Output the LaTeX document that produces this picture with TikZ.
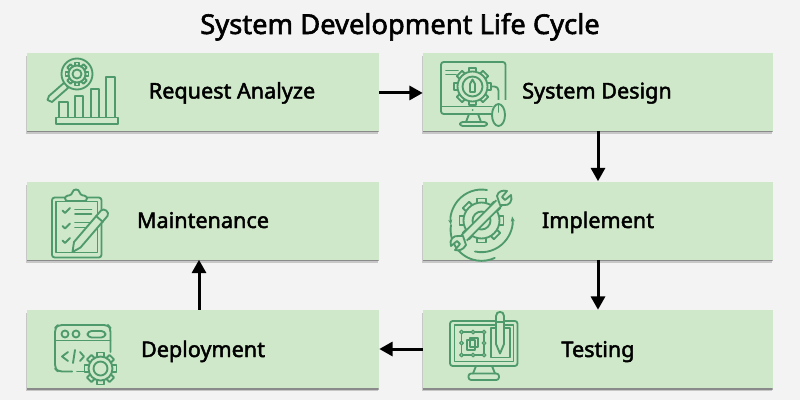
\documentclass[tikz,border=0pt]{standalone}
\usepackage{fontspec}
\setmainfont{Noto Sans}[AutoFakeBold=2.1]
\usetikzlibrary{arrows.meta,shadows}

\definecolor{pagegray}{HTML}{F3F3F3}
\definecolor{boxgreen}{HTML}{CFE8C9}
\definecolor{icongreen}{HTML}{4F9A6C}

\tikzset{
  stepbox/.style={fill=boxgreen,draw=none,minimum width=264pt,minimum height=58.5pt,inner sep=0pt,
    drop shadow={shadow xshift=-0.5pt,shadow yshift=-2.4pt,opacity=0.18,fill=black},
    drop shadow={shadow xshift=-0.3pt,shadow yshift=-1.2pt,opacity=0.3,fill=black}},
  widebox/.style={stepbox,minimum width=262.5pt},
  steplabel/.style={font=\fontsize{16.2}{18}\selectfont\bfseries,text=black,inner sep=0pt,anchor=base},
  flowarrow/.style={line width=2.25pt,-{Triangle[length=10pt,width=10.5pt]}},
  iconline/.style={draw=icongreen,line width=1.4pt,line join=round,line cap=round},
}

% gear: centre x, centre y, outer radius, body radius, hole radius
\newcommand{\gearshape}[5]{
  \foreach \a in {0,45,...,315}
    \draw[iconline,fill=boxgreen,rotate around={\a:(#1,#2)}]
      (#1-#3*0.2,#2) -- (#1-#3*0.2,#2-#3) -- (#1+#3*0.2,#2-#3) -- (#1+#3*0.2,#2) ;
  \draw[iconline,fill=boxgreen] (#1,#2) circle [radius=#4] ;
  \draw[iconline] (#1,#2) circle [radius=#5] ;
}

\begin{document}
\begin{tikzpicture}[x=0.75pt,y=0.75pt,yscale=-1,xscale=1]
\fill[pagegray] (0,0) rectangle (800,400) ;
\useasboundingbox (0,0) rectangle (800,400) ;

% Title
\node (title) at (400,34) [font=\fontsize{20.5}{22}\selectfont\bfseries,inner sep=0pt,anchor=base] {System Development Life Cycle};

% Boxes
\node (request) at (203,91.5) [stepbox] {};
\node (design) at (598,91.5) [widebox] {};
\node (maintenance) at (203,220.5) [stepbox] {};
\node (implement) at (598,220.5) [widebox] {};
\node (deployment) at (203,349) [stepbox] {};
\node (testing) at (598,349) [widebox] {};

% Text Nodes
\node (requestlabel) at (232,98.5) [steplabel] {Request Analyze};
\node (designlabel) at (597,98.5) [steplabel] {System Design};
\node (maintenancelabel) at (203,228) [steplabel] {Maintenance};
\node (implementlabel) at (598,228) [steplabel] {Implement};
\node (deploymentlabel) at (203,357) [steplabel] {Deployment};
\node (testinglabel) at (598,357) [steplabel] {Testing};

% Arrows
\draw[flowarrow] ([yshift=1.1pt]request.east) -- ([yshift=1.1pt]design.west) ;
\draw[flowarrow] (design.south) -- (implement.north) ;
\draw[flowarrow] (implement.south) -- (testing.north) ;
\draw[flowarrow] (testing.west) -- (deployment.east) ;
\draw[flowarrow] ([xshift=-3pt]deployment.north) -- ([xshift=-3pt]maintenance.south) ;

% Icon: magnifier and bars
\draw[iconline] (56,117.5) rectangle (118,124) ;
\draw[iconline] (59,117) -- (59,102) -- (68,102) -- (68,117) ;
\draw[iconline] (75,117) -- (75,96) -- (83,96) -- (83,117) ;
\draw[iconline] (91,117) -- (91,89) -- (99,89) -- (99,117) ;
\draw[iconline] (106,117) -- (106,77) -- (115,77) -- (115,117) ;
\draw[iconline,fill=boxgreen] (65,82) -- (49,96) -- (47.5,100) -- (52,102) -- (68,88) -- cycle ;
\draw[iconline,fill=boxgreen] (77,74) circle [radius=15.5] ;
\gearshape{77}{74}{11.5}{8.5}{4.5}

% Icon: monitor with gear and mouse
\draw[iconline,rounded corners=2] (441,62) rectangle (505.5,114) ;
\draw[iconline] (441,106.5) -- (492,106.5) ;
\draw[iconline] (469,114) -- (466,122) ;
\draw[iconline] (478,114) -- (481,122) ;
\draw[iconline,rounded corners=2] (460,122) rectangle (487,126) ;
\draw[iconline] (446,70.5) -- (458,70.5) ;
\draw[iconline] (446,74.5) -- (456,74.5) ;
\fill[icongreen] (472.5,110) circle [radius=1] ;
\gearshape{472.5}{86.5}{18.5}{15}{10}
\draw[iconline] (470,92) -- (470,84) -- (472.5,79.5) -- (475,84) -- (475,92) -- cycle ;
\draw[iconline,rounded corners=3] (491,86.5) -- (498.5,86.5) -- (498.5,105) ;
\fill[boxgreen] (493,100) rectangle (507,116) ;
\draw[iconline,fill=boxgreen] (498.5,115) ellipse [x radius=6.5, y radius=11] ;
\draw[iconline] (498.5,104) -- (498.5,112) ;

% Icon: gear, wrench and round arrows
\gearshape{481.5}{220.5}{22}{18}{9}
\draw[iconline] (451,225) arc [start angle=171, end angle=295, x radius=31, y radius=-31] ;
\draw[iconline,-{Stealth[length=4pt]}] (487,190) arc [start angle=-80, end angle=-188, radius=31] ;
\draw[iconline,-{Stealth[length=4pt]}] (475,251.5) arc [start angle=102, end angle=-9, radius=31] ;
\draw[draw=icongreen,line width=7pt] (464,238) -- (499,203) ;
\draw[draw=boxgreen,line width=4pt] (464,238) -- (499,203) ;
\draw[iconline,fill=boxgreen] (500,205) -- (497,196) .. controls (498,191) and (503,190) .. (507,191) -- (502,197) -- (505,200) -- (511,195) .. controls (513,201) and (509,206) .. (504,205) -- cycle ;
\draw[iconline,fill=boxgreen] (463,236) -- (466,245) .. controls (463,250) and (459,251) .. (455,250) -- (460,244) -- (457,241) -- (451,246) .. controls (449,240) and (453,235) .. (459,236) -- cycle ;

% Icon: monitor with pen
\draw[iconline,rounded corners=2] (450,321) rectangle (517.5,366) ;
\draw[iconline] (454.5,325) rectangle (513.5,361.5) ;
\draw[iconline] (476,366) -- (473,373.5) ;
\draw[iconline] (492,366) -- (495,373.5) ;
\draw[iconline,rounded corners=2] (468.5,373.5) rectangle (499,380) ;
\draw[iconline] (461.5,332) rectangle (484,355) ;
\draw[iconline] (467,340) rectangle (475,350) ;
\draw[iconline] (470,338) rectangle (478,347) ;
\foreach \px/\py in {461.5/332,473/332,484/332,461.5/343,484/343,461.5/355,473/355,484/355}
  \draw[iconline,line width=1pt,fill=boxgreen] (\px,\py) circle [radius=1.8] ;
\draw[iconline] (491,328) rectangle (510,357.5) ;
\draw[iconline,fill=boxgreen] (496,316) .. controls (496,310.5) and (504,310.5) .. (504,316) -- (504,344) -- (500,353.5) -- (496,344) -- cycle ;
\draw[iconline] (496,322) -- (504,322) ;

% Icon: clipboard with pencil
\draw[iconline,rounded corners=2] (52,197.5) rectangle (101.5,257.5) ;
\draw[iconline] (56,201.5) rectangle (97.5,252.5) ;
\draw[iconline,fill=boxgreen,rounded corners=2] (65,201) -- (65,196) -- (72,195) .. controls (73,188.5) and (79,188.5) .. (80,195) -- (87,196) -- (87,201) -- cycle ;
\foreach \cy in {210.5,226,240.5}
  \draw[iconline] (62.5,\cy) -- (65,\cy+2.5) -- (70,\cy-2.5) ;
\draw[iconline] (75,209.5) -- (91.5,209.5) ;
\draw[iconline] (75,214) -- (91.5,214) ;
\draw[iconline] (75,222.5) -- (90,222.5) ;
\draw[iconline] (75,227.5) -- (85,227.5) ;
\draw[iconline,fill=boxgreen] (72.5,252) -- (74,242) -- (101,210.5) .. controls (104,207.5) and (110,212) .. (107.5,216) -- (80.5,247.5) -- cycle ;
\draw[iconline] (96,216) -- (103,222) ;

% Icon: browser window and gear
\draw[iconline,rounded corners=3] (72,371.5) -- (58,371.5) -- (55,368.5) -- (55,328) -- (58,325) -- (108,325) -- (110.5,328) -- (110.5,352) ;
\draw[iconline] (55,340.5) -- (110.5,340.5) ;
\draw[iconline] (65,334) circle [radius=3.5] ;
\draw[iconline] (76,334) circle [radius=3.5] ;
\draw[iconline,rounded corners=3] (87.5,331) rectangle (105.5,337.5) ;
\draw[iconline] (68,352) -- (62,356.5) -- (68,361) ;
\draw[iconline] (73,363) -- (75,350) ;
\draw[iconline] (80,352) -- (84,356.5) -- (80,361) ;
\fill[icongreen] (72,371.5) circle [radius=0.8] ;
\draw[iconline] (77,371.5) -- (86,371.5) ;
\gearshape{100.5}{368.5}{16}{12}{7}

\end{tikzpicture}
\end{document}
